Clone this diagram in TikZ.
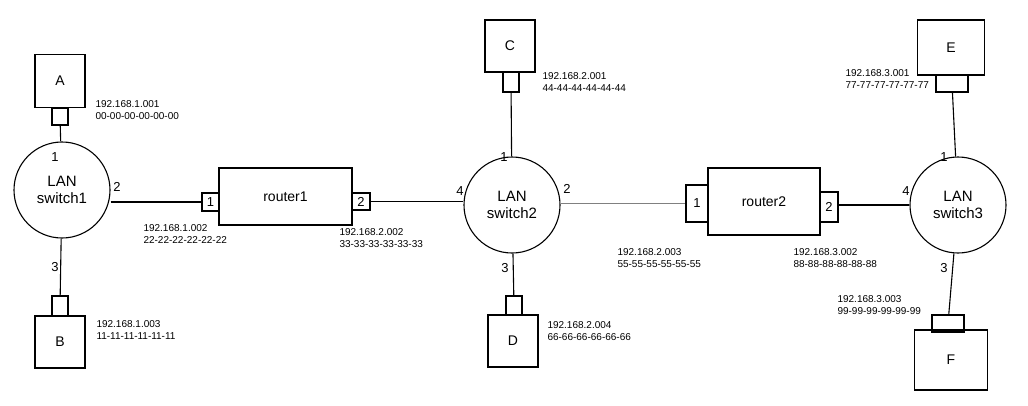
\documentclass[tikz,border=0pt]{standalone}
\usepackage{fontspec}
\setmainfont{Liberation Sans}
\begin{document}
\begin{tikzpicture}[x=1pt,y=-1pt,
 box/.style={draw,line width=1.1pt,inner sep=0},
 sw/.style={draw,line width=1.1pt,circle,minimum size=96pt,align=center,font=\fontsize{15}{17}\selectfont},
 lbl/.style={font=\fontsize{10}{11.5}\selectfont,align=left,anchor=west},
 num/.style={font=\fontsize{13}{14}\selectfont},
 ln/.style={line width=1.1pt}]
\useasboundingbox (0,0) rectangle (1028,405);
% hosts
\node[box,minimum width=50pt,minimum height=53pt,font=\fontsize{14}{16}\selectfont] (A) at (60,81) {A};
\node[box,minimum width=16pt,minimum height=17pt] (pA) at (60,116.5) {};
\node[box,minimum width=50pt,minimum height=52pt,font=\fontsize{14}{16}\selectfont] (B) at (60,342) {B};
\node[box,minimum width=16pt,minimum height=20pt] (pB) at (60,306) {};
\node[box,minimum width=50pt,minimum height=52pt,font=\fontsize{14}{16}\selectfont] (C) at (510,46) {C};
\node[box,minimum width=16pt,minimum height=20pt] (pC) at (511,82) {};
\node[box,minimum width=50pt,minimum height=52pt,font=\fontsize{14}{16}\selectfont] (D) at (513,341) {D};
\node[box,minimum width=16pt,minimum height=19pt] (pD) at (514,305.5) {};
\node[box,minimum width=67pt,minimum height=55pt,font=\fontsize{14}{16}\selectfont] (E) at (951,47.5) {E};
\node[box,minimum width=32pt,minimum height=17pt] (pE) at (952,83.5) {};
\node[box,minimum width=73pt,minimum height=60pt,font=\fontsize{14}{16}\selectfont] (F) at (951,360) {F};
\node[box,minimum width=32pt,minimum height=17pt] (pF) at (948,323.5) {};
% switches
\node[sw] (S1) at (62,190) {LAN\\switch1};
\node[sw] (S2) at (512,205) {LAN\\switch2};
\node[sw] (S3) at (958,205) {LAN\\switch3};
% routers
\node[box,minimum width=133pt,minimum height=57pt,font=\fontsize{14}{16}\selectfont] (R1) at (285.5,196.5) {router1};
\node[box,minimum width=17pt,minimum height=18pt,num] (r1p1) at (210.5,202) {1};
\node[box,minimum width=18pt,minimum height=17pt,num] (r1p2) at (361,201.5) {2};
\node[box,minimum width=112pt,minimum height=67pt,font=\fontsize{14}{16}\selectfont] (R2) at (764,201.5) {router2};
\node[box,minimum width=22pt,minimum height=37pt,num] (r2p1) at (697,203.5) {1};
\node[box,minimum width=18pt,minimum height=30pt,num] (r2p2) at (829,207) {2};
% links
\draw[ln] (pA) -- (S1);
\draw[ln] (pB) -- (S1);
\draw[ln] (pC) -- (S2);
\draw[ln] (pD) -- (S2);
\draw[ln] (pE) -- (S3);
\draw[ln] (pF) -- (S3);
\draw[ln] (S1.east |- r1p1) -- (r1p1);
\draw[ln] (r1p2) -- (r1p2 -| S2.west);
\draw[ln,gray] (S2.east |- r2p1) -- (r2p1);
\draw[ln] (r2p2.east |- 0,205) -- (S3.west);
% port numbers
\node[num] (n11) at (55,157) {1};
\node[num] (n12) at (117,187) {2};
\node[num] (n13) at (55,267) {3};
\node[num] (n21) at (504,157) {1};
\node[num] (n22) at (567,189) {2};
\node[num] (n23) at (505,268) {3};
\node[num] (n24) at (460,191) {4};
\node[num] (n31) at (944,157) {1};
\node[num] (n33) at (944,268) {3};
\node[num] (n34) at (906,191) {4};
% addresses
\node[lbl] (a1) at (92,110) {192.168.1.001\\00-00-00-00-00-00};
\node[lbl] (a2) at (140,234) {192.168.1.002\\22-22-22-22-22-22};
\node[lbl] (a3) at (93,330) {192.168.1.003\\11-11-11-11-11-11};
\node[lbl] (a4) at (336,238) {192.168.2.002\\33-33-33-33-33-33};
\node[lbl] (a5) at (539,82) {192.168.2.001\\44-44-44-44-44-44};
\node[lbl] (a6) at (544,331) {192.168.2.004\\66-66-66-66-66-66};
\node[lbl] (a7) at (614,258) {192.168.2.003\\55-55-55-55-55-55};
\node[lbl] (a8) at (790,258) {192.168.3.002\\88-88-88-88-88-88};
\node[lbl] (a9) at (842,79) {192.168.3.001\\77-77-77-77-77-77};
\node[lbl] (a10) at (834,305) {192.168.3.003\\99-99-99-99-99-99};
\end{tikzpicture}
\end{document}
